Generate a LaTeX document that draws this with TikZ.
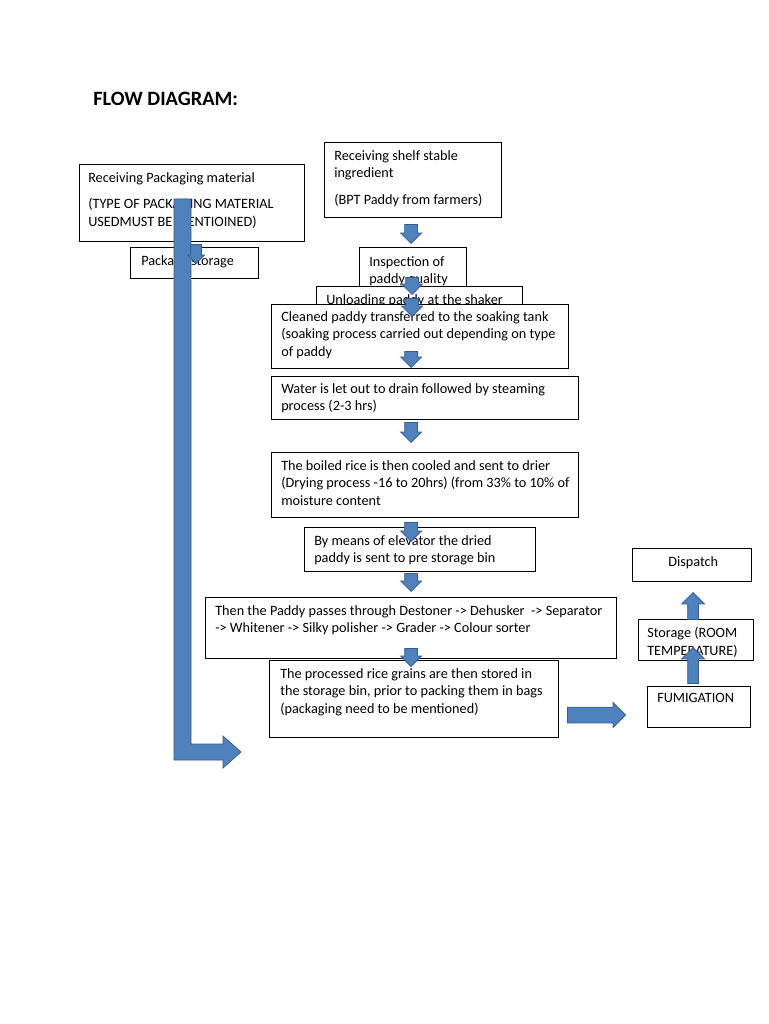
\documentclass[tikz,border=0pt]{standalone}
\usepackage{fontspec}
\setmainfont{Carlito}
\usetikzlibrary{
  shapes.arrows,
  fit
}
\definecolor{arrowblue}{HTML}{4F81BD}
\definecolor{arrowline}{HTML}{385D8A}

\begin{document}
\begin{tikzpicture}[
  x=0.8pt, y=-0.8pt,
  stepbox/.style = {draw=black, fill=white, line width=0.6pt, inner sep=0pt},
  boxtext/.style = {anchor=north west, inner sep=0pt, align=left,
    font=\fontsize{11.4}{14.2}\selectfont},
  blockarrow/.style = {single arrow, draw=arrowline, fill=arrowblue,
    line width=0.6pt, inner xsep=0pt, anchor=tip},
  downarrow/.style = {blockarrow, rotate=-90, inner ysep=4.8pt,
    single arrow head extend=3.2pt, minimum width=16pt},
  uparrow/.style = {blockarrow, rotate=90, inner ysep=4pt,
    single arrow head extend=4.8pt, minimum width=17.6pt},
  rightarrow/.style = {blockarrow, inner ysep=6pt,
    single arrow head extend=3.6pt, minimum width=19.2pt}]
  \fill[white] (0,0) rectangle (768,1024);
  \useasboundingbox (0,0) rectangle (768,1024);

  \node[anchor=base west, inner sep=0pt,
    font=\bfseries\fontsize{16.3}{19}\selectfont] (title) at (93,106) {FLOW DIAGRAM:};

  % packaging material side
  \node[stepbox, fit={(79,164) (304,241)}] (pkgmat) {};
  \node[boxtext] (pkgmattext) at (88,172)
    {Receiving Packaging material\\[7pt](TYPE OF PACKAGING MATERIAL\\USEDMUST BE MENTIOINED)};
  \node[stepbox, fit={(130,247) (258,278)}] (pkgstore) {};
  \node[boxtext] (pkgstoretext) at (141,255) {Package storage};

  % paddy line
  \node[stepbox, fit={(324,142) (501,217)}] (shelf) {};
  \node[boxtext] (shelftext) at (334,150)
    {Receiving shelf stable\\ingredient\\[7pt](BPT Paddy from farmers)};
  \node[stepbox, fit={(359,247) (466,290)}] (inspect) {};
  \node[boxtext] (inspecttext) at (369,256) {Inspection of\\paddy quality};
  \node[stepbox, fit={(316,286) (522,312)}] (unload) {};
  \node[boxtext] (unloadtext) at (326,294) {Unloading paddy at the shaker};
  \node[stepbox, fit={(271,304) (568,368)}] (soak) {};
  \node[boxtext] (soaktext) at (281,311)
    {Cleaned paddy transferred to the soaking tank\\(soaking process carried out depending on type\\of paddy};
  \node[stepbox, fit={(271,376) (578,419)}] (steam) {};
  \node[boxtext] (steamtext) at (281,383)
    {Water is let out to drain followed by steaming\\process (2-3 hrs)};
  \node[stepbox, fit={(271,452) (578,517)}] (drier) {};
  \node[boxtext] (driertext) at (281,460)
    {The boiled rice is then cooled and sent to drier\\(Drying process -16 to 20hrs) (from 33\% to 10\% of\\moisture content};
  \node[stepbox, fit={(304,527) (535,571)}] (elevator) {};
  \node[boxtext] (elevatortext) at (314,535)
    {By means of elevator the dried\\paddy is sent to pre storage bin};
  \node[stepbox, fit={(205,597) (616,658)}] (milling) {};
  \node[boxtext] (millingtext) at (215,605)
    {Then the Paddy passes through Destoner -> Dehusker\ \ -> Separator\\-> Whitener -> Silky polisher -> Grader -> Colour sorter};
  \node[stepbox, fit={(269,660) (558,737)}] (storebin) {};
  \node[boxtext] (storebintext) at (280,668)
    {The processed rice grains are then stored in\\the storage bin, prior to packing them in bags\\(packaging need to be mentioned)};

  % right column
  \node[stepbox, fit={(632,548) (751,581)}] (dispatch) {};
  \node[boxtext] (dispatchtext) at (668,556) {Dispatch};
  \node[stepbox, fit={(638,619) (753,660)}] (roomstore) {};
  \node[boxtext] (roomstoretext) at (647,627) {Storage (ROOM\\TEMPERATURE)};
  \node[stepbox, fit={(647,686) (750,727)}] (fumigate) {};
  \node[boxtext] (fumigatetext) at (657,693) {FUMIGATION};

  % long bent arrow
  \draw[arrowline, fill=arrowblue, line width=0.6pt]
    (174,199) -- (191,199) -- (191,744) -- (223,744) -- (223,736)
    -- (241,752) -- (223,768) -- (223,760) -- (174,760) -- cycle;

  % block arrows, placed by their tips
  \node[downarrow, minimum height=15.2pt, inner ysep=4pt,
    single arrow head extend=2.4pt, minimum width=12.8pt] (arrpkg) at (196,264) {};
  \node[downarrow, minimum height=15.2pt] (arr1) at (411,244) {};
  \node[downarrow, minimum height=13.6pt] (arr2) at (412,295) {};
  \node[downarrow, minimum height=14.4pt] (arr3) at (412,317) {};
  \node[downarrow, minimum height=12.8pt] (arr4) at (411,368) {};
  \node[downarrow, minimum height=16pt] (arr5) at (411,443) {};
  \node[downarrow, minimum height=15.2pt] (arr6) at (411,542) {};
  \node[downarrow, minimum height=14.4pt] (arr7) at (411,592) {};
  \node[downarrow, minimum height=14.4pt] (arr8) at (411,667) {};
  \node[rightarrow, minimum height=46.4pt] (arrfum) at (626,715) {};
  \node[uparrow, minimum height=28.8pt] (arrroom) at (693,647) {};
  \node[uparrow, minimum height=21.6pt] (arrdispatch) at (693,592) {};
\end{tikzpicture}
\end{document}
